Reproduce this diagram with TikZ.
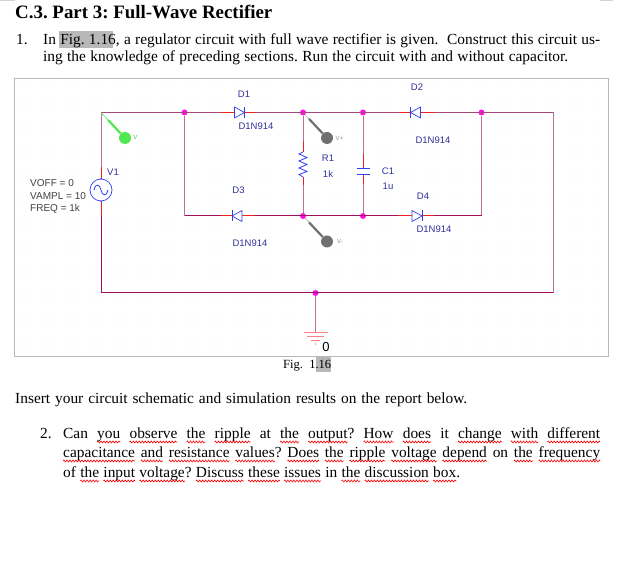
\documentclass[tikz,border=0pt]{standalone}
\usepackage{fontspec}
\setmainfont{Liberation Serif}
\newfontfamily\labelfont{Liberation Sans}
\usetikzlibrary{calc}
\usetikzlibrary{decorations.pathmorphing}
\definecolor{WireDark}{HTML}{A0105F}
\definecolor{WireTop}{HTML}{A8487A}
\definecolor{WireSide}{HTML}{BA7298}
\definecolor{LeadRed}{HTML}{F02020}
\definecolor{PartBlue}{HTML}{3040F0}
\definecolor{LabelNavy}{HTML}{30309A}
\definecolor{DotMagenta}{HTML}{FF10E0}
\definecolor{ProbeGreen}{HTML}{50E850}
\definecolor{ProbeGray}{HTML}{707070}
\definecolor{GroundRed}{HTML}{FF8080}
\definecolor{MarkGray}{HTML}{B8B8B8}
\newlength{\sqlen}
\newcommand{\sq}[1]{\setbox0\hbox{#1}\setlength{\sqlen}{\wd0}\copy0\tikz[overlay]{\draw[red,line width=0.6pt,decorate,decoration={zigzag,segment length=3pt,amplitude=1pt}] (-\sqlen,-3.5pt) -- (0pt,-3.5pt);}}
\frenchspacing
\tikzset{
  body/.style={anchor=base west,inner sep=0pt,font=\fontsize{15.4}{16}\selectfont},
  parttext/.style={inner sep=0pt,text=LabelNavy,font=\labelfont\fontsize{9.5}{10}\selectfont},
  parmtext/.style={anchor=west,inner sep=0pt,text=black!75,font=\labelfont\fontsize{10}{10}\selectfont},
  junction/.style={circle,fill=DotMagenta,inner sep=0pt,minimum size=6pt},
  wire/.style={line width=1pt,WireTop},
  wireside/.style={line width=1pt,WireSide},
  wiredark/.style={line width=1pt,WireDark},
  lead/.style={line width=1pt,LeadRed},
  probe/.style={circle,inner sep=0pt,minimum size=12pt},
  diodesym/.pic={
    \draw[PartBlue,line width=0.7pt,fill=white,line join=round] (-5,-5.5) -- (5,0) -- (-5,5.5) -- cycle;
    \draw[PartBlue,line width=0.7pt] (5,-5.5) -- (5,5.5);
  }
}
\begin{document}
\begin{tikzpicture}[x=1pt,y=-1pt]
  \useasboundingbox (0,0) rectangle (633,585);
  \fill[white] (0,0) rectangle (633,585);
  \fill[MarkGray!60] (0,0) rectangle (15,1.5);
  \fill[MarkGray!60] (600,0) rectangle (613,1.5);

  % highlights and frame
  \fill[MarkGray] (59,31) rectangle (113,48);
  \fill[MarkGray] (316,357) rectangle (331,372);
  \draw[MarkGray,line width=0.9pt] (14.5,78.5) rectangle (608,356);
  \foreach \x in {0,...,48}{%
    \foreach \y in {0,...,22}{%
      \fill[black!22] (18+12*\x,87+12*\y) circle (0.45);
    }
  }

  % text
  \node[body,font=\bfseries\fontsize{18.9}{20}\selectfont] (title) at (15,19) {C.3. Part 3: Full-Wave Rectifier};
  \node[body] (numone) at (16,44.5) {1.};
  \node[body] (lineone) at (43,44.5) {\makebox[557pt][s]{In Fig. 1.16, a regulator circuit with full wave rectifier is given.\ \ Construct this circuit us-}};
  \node[body] (linetwo) at (43,61.5) {\makebox[525pt][s]{ing the knowledge of preceding sections. Run the circuit with and without capacitor.}};
  \node[body,font=\fontsize{12.5}{13}\selectfont] (caption) at (283,369) {\makebox[48pt][s]{Fig. 1.16}};
  \node[body] (insert) at (15,403.5) {\makebox[452pt][s]{Insert your circuit schematic and simulation results on the report below.}};
  \node[body] (numtwo) at (40,438.5) {2.};
  \node[body] (itemone) at (63,438.5) {\makebox[537pt][s]{Can \sq{you} \sq{observe} \sq{the} \sq{ripple} at \sq{the} \sq{output}? \sq{How} \sq{does} it \sq{change} \sq{with} \sq{different}}};
  \node[body] (itemtwo) at (63,457.5) {\makebox[537pt][s]{\sq{capacitance} \sq{and} \sq{resistance} \sq{values}? \sq{Does} \sq{the} \sq{ripple} \sq{voltage} \sq{depend} on \sq{the} \sq{frequency}}};
  \node[body] (itemthree) at (63,477.5) {\makebox[397pt][s]{of \sq{the} \sq{input} \sq{voltage}? \sq{Discuss} \sq{these} \sq{issues} in \sq{the} \sq{discussion} \sq{box}.}};

  % circuit points
  \coordinate (TopLeft) at (101,112.5);
  \coordinate (TopRight) at (553,112.5);
  \coordinate (BotLeft) at (101,293);
  \coordinate (BotRight) at (553,293);
  \coordinate (GndTop) at (315.5,332);
  \node[junction] (JA) at (184.5,112.5) {};
  \node[junction] (JB) at (303,112.5) {};
  \node[junction] (JC) at (363,112.5) {};
  \node[junction] (JD) at (481.5,112.5) {};
  \node[junction] (JE) at (303,216) {};
  \node[junction] (JF) at (363,216) {};
  \coordinate (JG) at (184.5,216);
  \coordinate (JH) at (481.5,216);
  \node[junction] (JI) at (315.5,293) {};
  \coordinate (D1) at (239.5,112.5);
  \coordinate (D2) at (415.5,112.5);
  \coordinate (D3) at (237,216);
  \coordinate (D4) at (417,216);
  \coordinate (R1top) at (303,152);
  \coordinate (R1bot) at (303,177);
  \coordinate (C1top) at (363,168);
  \coordinate (C1bot) at (363,174.5);
  \node[circle,draw=PartBlue,line width=0.7pt,fill=white,inner sep=0pt,minimum size=22pt] (V1) at (101,190) {};

  % wires
  \draw[wireside] (TopLeft) -- (V1.north);
  \draw[wiredark] (V1.south) -- (BotLeft) -- (BotRight);
  \draw[wireside] (BotRight) -- (TopRight);
  \draw[wire] (TopRight) -- (TopLeft);
  \draw[wireside] (JA) -- (JG);
  \draw[wireside] (JD) -- (JH);
  \draw[wiredark] (JG) -- (JH);
  \draw[wireside] (JB) -- (R1top);
  \draw[wireside] (R1bot) -- (JE);
  \draw[wireside] (JC) -- (C1top);
  \draw[wireside] (C1bot) -- (JF);
  \draw[wireside] (JI) -- (GndTop);
  \draw[lead] ([yshift=11pt]R1top) -- (R1top);
  \draw[lead] (R1bot) -- ([yshift=-8pt]R1bot);
  \draw[lead] ([yshift=14pt]C1top) -- (C1top);
  \draw[lead] (C1bot) -- ([yshift=-10pt]C1bot);
  \draw[lead] ([yshift=-14pt]V1.south) -- (V1.south);
  \draw[lead] ([yshift=12pt]V1.north) -- (V1.north);

  % parts
  \foreach \d/\lo/\hi in {D1/-19/15,D2/-17/19,D3/-16/18,D4/-19/17}{%
    \draw[lead] ([xshift=\lo pt]\d) -- ([xshift=\hi pt]\d);
  }
  \pic at (D1) {diodesym};
  \pic[xscale=-1] at (D2) {diodesym};
  \pic[xscale=-1] at (D3) {diodesym};
  \pic at (D4) {diodesym};
  \draw[PartBlue,line width=0.8pt] (R1top) -- ++(-4,2) -- ++(8,3.5) -- ++(-8,3.5) -- ++(8,3.5) -- ++(-8,3.5) -- ++(8,3.5) -- ++(-8,3) -- (R1bot);
  \draw[PartBlue,line width=0.8pt] ([xshift=-6.5pt]C1top) -- ([xshift=6.5pt]C1top);
  \draw[PartBlue,line width=0.8pt] ([xshift=-6.5pt]C1bot) -- ([xshift=6.5pt]C1bot);
  \draw[PartBlue,line width=0.8pt] (94,190) .. controls (96,182) and (100,185) .. (101,190) .. controls (102,195) and (106,198) .. (108,190);
  \fill[PartBlue] (V1.north) circle (0.8);
  \fill[PartBlue] (V1.south) circle (0.8);

  % ground
  \draw[GroundRed,line width=0.9pt] ([xshift=-12pt]GndTop) -- ([xshift=12pt]GndTop);
  \draw[GroundRed,line width=0.9pt] (307,336) -- (324,336);
  \draw[GroundRed,line width=0.9pt] (311,340) -- (320,340);
  \fill[red!80] (315.5,344) circle (0.7);

  % probes
  \node[probe,fill=ProbeGreen] (PV) at (125,138) {};
  \node[probe,fill=ProbeGray] (PP) at (327,138) {};
  \node[probe,fill=ProbeGray] (PM) at (327,241.5) {};
  \draw[ProbeGreen,line width=2.2pt] (PV) -- ($(TopLeft)!0.3!(PV)$);
  \draw[ProbeGreen,line width=0.6pt] ($(TopLeft)!0.3!(PV)$) -- (TopLeft);
  \draw[ProbeGray,line width=2.2pt] (PP) -- ($(JB)!0.25!(PP)$);
  \draw[ProbeGray,line width=2.2pt] (PM) -- ($(JE)!0.25!(PM)$);
  \draw[ProbeGray!60,line width=0.6pt] ($(JB)!0.25!(PP)$) -- (JB);
  \draw[ProbeGray!60,line width=0.6pt] ($(JE)!0.25!(PM)$) -- (JE);
  \node[parttext,text=ProbeGreen!85!black,font=\labelfont\fontsize{6}{6}\selectfont] (pvtext) at (135.5,137.5) {V};
  \node[parttext,text=black!45,font=\labelfont\fontsize{6}{6}\selectfont] (pptext) at (339.5,138) {V+};
  \node[parttext,text=black!45,font=\labelfont\fontsize{6}{6}\selectfont] (pmtext) at (340,241.5) {V-};

  % labels
  \node[parttext] (d1name) at (244,94) {D1};
  \node[parttext] (d1type) at (256,126) {D1N914};
  \node[parttext] (d2name) at (417,87) {D2};
  \node[parttext] (d2type) at (433,140) {D1N914};
  \node[parttext] (d3name) at (238.5,190) {D3};
  \node[parttext] (d3type) at (250,243) {D1N914};
  \node[parttext] (d4name) at (423,196) {D4};
  \node[parttext] (d4type) at (434,229) {D1N914};
  \node[parttext] (r1name) at (328,158) {R1};
  \node[parttext] (r1val) at (328,174) {1k};
  \node[parttext] (c1name) at (388,171) {C1};
  \node[parttext] (c1val) at (388,186) {1u};
  \node[parttext] (v1name) at (113,172) {V1};
  \node[parmtext] (voff) at (30,183.5) {VOFF = 0};
  \node[parmtext] (vampl) at (30,196) {VAMPL = 10};
  \node[parmtext] (freq) at (30,209) {FREQ = 1k};
  \node[inner sep=0pt,font=\labelfont\fontsize{13}{13}\selectfont] (gndzero) at (326,347) {0};
\end{tikzpicture}
\end{document}
